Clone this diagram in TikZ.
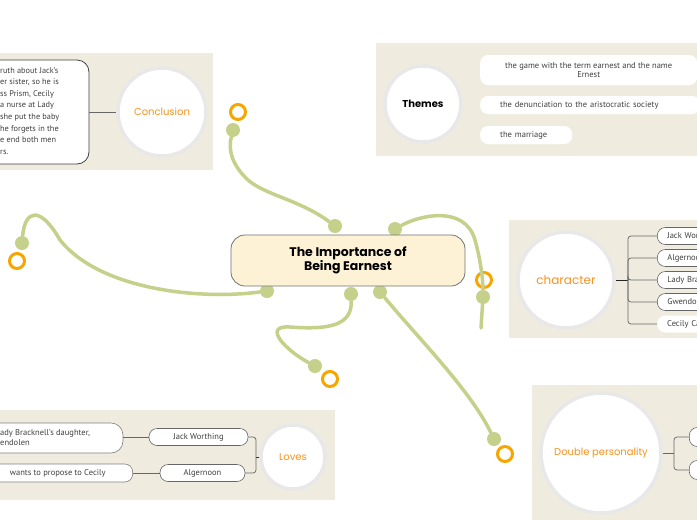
\documentclass[tikz,border=0pt]{standalone}
\usepackage{fontspec}
\setmainfont{PT Sans}
\newfontfamily\headfont{Poppins}
\usetikzlibrary{calc}
\definecolor{panel}{HTML}{EFECDF}
\definecolor{branch}{HTML}{C5D08A}
\definecolor{ring}{HTML}{F7A600}
\definecolor{lbl}{HTML}{F7931E}
\definecolor{cfill}{HTML}{FDF1D6}
\tikzset{
  pnl/.style={fill=panel,draw=none},
  topic/.style={circle,fill=white,draw=black!9,line width=3.5pt,inner sep=0pt},
  tlabel/.style={font=\headfont\fontsize{10}{12}\selectfont,text=lbl},
  sub/.style={rounded corners=8pt,fill=white,draw=black!60,line width=0.6pt,font=\fontsize{8.5}{9.5}\selectfont,text=black!75},
  subw/.style={rounded corners=8pt,fill=white,draw=none,font=\fontsize{8.5}{9.5}\selectfont,text=black!75},
  br/.style={draw=branch,line width=3.5pt,line cap=round},
  dotg/.style={circle,fill=branch,inner sep=0pt,minimum size=14pt},
  ringo/.style={circle,draw=ring,line width=3pt,fill=white,inner sep=0pt,minimum size=15pt},
  conn/.style={draw=black!60,line width=0.7pt},
}
\begin{document}
\begin{tikzpicture}[x=1pt,y=-1pt]
\useasboundingbox (0,0) rectangle (697,520);
\clip (0,0) rectangle (697,520);
\fill[white] (0,0) rectangle (697,520);
% panels
\fill[pnl] (0,53) rectangle (213,170);
\fill[pnl] (376,43) rectangle (697,156);
\fill[pnl] (509,220) rectangle (697,338);
\fill[pnl] (0,410) rectangle (335,500);
\fill[pnl] (532,385) rectangle (697,520);

% branches
\node[dotg] (d1) at (335,226) {};
\node[dotg] (d1b) at (233,130) {};
\node[ringo] (r1) at (238,112) {};
\draw[br] (d1) .. controls (300,200) and (265,195) .. (248,180) .. controls (232,165) and (228,150) .. (d1b);
\node[dotg] (d2) at (267,291) {};
\node[dotg] (d2b) at (22,243) {};
\node[ringo] (r2) at (17,261) {};
\draw[br] (d2) .. controls (200,300) and (100,290) .. (60,240) .. controls (40,205) and (25,210) .. (d2b);
\node[dotg] (d3) at (395,229) {};
\node[dotg] (d3b) at (483,297) {};
\node[ringo] (r3) at (484,280) {};
\coordinate (d3e) at (481,328);
\draw[br] (d3) .. controls (420,215) and (465,205) .. (475,240) .. controls (482,265) and (483,285) .. (d3b) -- (d3e);
\node[dotg] (d4) at (351,294) {};
\node[dotg] (d4b) at (315,366) {};
\node[ringo] (r4) at (330,379) {};
\draw[br] (d4) .. controls (352,325) and (330,330) .. (290,327) .. controls (262,325) and (285,350) .. (d4b);
\node[dotg] (d5) at (380,292) {};
\node[dotg] (d5b) at (494,439) {};
\node[ringo] (r5) at (505,454) {};
\draw[br] (d5) .. controls (420,340) and (470,390) .. (d5b);

% central
\node[rounded corners=14pt,fill=cfill,draw=black!55,line width=0.8pt,minimum width=234pt,minimum height=51pt,align=center,font=\headfont\bfseries\fontsize{12.5}{14}\selectfont] (c) at (348,260.5) {The Importance of\\Being Earnest};

% Conclusion
\node[topic,minimum size=88pt] (tc) at (162,112) {};
\node[tlabel] at (tc) {Conclusion};
\draw[rounded corners=12pt,fill=white,draw=black!75,line width=0.8pt] (-20,60) rectangle (89,164);
\node[anchor=north west,align=left,font=\fontsize{8.3}{11.6}\selectfont,text=black!75,inner sep=0pt] (ct) at (0,67) {ruth about Jack's\\er sister, so he is\\ss Prism, Cecily\\a nurse at Lady\\she put the baby\\he forgets in the\\e end both men\\rs.};
\draw[conn] (89,112) -- (tc.west);

% Themes
\node[topic,minimum size=76pt] (tt) at (423,104) {};
\node[font=\headfont\bfseries\fontsize{10}{12}\selectfont] at (tt) {Themes};
\node[subw,minimum width=217pt,minimum height=30pt,align=center,anchor=west] (t1) at (480,70) {the game with the term earnest and the name\\Ernest};
\node[subw,minimum width=202pt,minimum height=18pt,anchor=west,text width=180pt,align=left,inner xsep=20pt] (t2) at (480,105) {the denunciation to the aristocratic society};
\node[subw,minimum width=92pt,minimum height=18pt,anchor=west,text width=52pt,align=left,inner xsep=20pt] (t3) at (480,135) {the marriage};
\coordinate (t2e) at (697,105);
\draw[conn] (t2.east) -- (t2e);

% character
\node[topic,minimum size=96pt] (tch) at (566,280) {};
\node[tlabel,font=\headfont\fontsize{12}{14}\selectfont] at (tch) {character};
\coordinate (cb) at (628,280);
\draw[black!85,line width=1pt] (tch.east) -- (cb);
\foreach \n/\t/\y in {a/Jack Worthing/236,b/Algernoon/258,c/Lady Bracknell/280,d/Gwendolen/302}{
  \node[sub,minimum width=80pt,minimum height=17pt,anchor=west,text width=60pt,align=left] (ch\n) at (657,\y) {\t};
  \draw[conn,rounded corners=3pt] (cb) |- (ch\n.west);
}
\node[subw,minimum width=80pt,minimum height=17pt,anchor=west,text width=60pt,align=left] (che) at (657,324) {Cecily Cardew};
\draw[conn,rounded corners=3pt] (cb) |- (che.west);

% Loves
\node[topic,minimum size=64pt] (tl) at (293,457) {};
\node[tlabel] at (tl) {Loves};
\node[sub,minimum width=99pt,minimum height=17pt] (lj) at (198.5,437) {Jack Worthing};
\node[sub,minimum width=85pt,minimum height=17pt] (la) at (202.5,473) {Algernoon};
\coordinate (lb) at (256,457);
\draw[black!85,line width=1pt] (tl.west) -- (lb);
\draw[conn,rounded corners=3pt] (lb) |- (lj.east);
\draw[conn,rounded corners=3pt] (lb) |- (la.east);
\draw[rounded corners=12pt,fill=white,draw=black!50,line width=0.6pt] (-30,423) rectangle (123,453);
\node[anchor=west,align=left,font=\fontsize{8.5}{10}\selectfont,text=black!75,inner sep=0pt] (lt1) at (0,438) {ady Bracknell's daughter,\\endolen};
\draw[conn] (123,437) -- (lj.west);
\node[sub,minimum width=150pt,minimum height=18pt,anchor=east,draw=black!50] (lt2) at (133,473) {wants to propose to Cecily};
\draw[conn] (lt2.east) -- (la.west);

% Double personality
\node[topic,minimum size=120pt] (td) at (601,453) {};
\node[tlabel] at (td) {Double personality};
\coordinate (db) at (674,453);
\draw[conn] (td.east) -- (db);
\node[sub,minimum width=40pt,minimum height=19pt,anchor=west] (da) at (689,437) {};
\node[sub,minimum width=40pt,minimum height=19pt,anchor=west] (dbb) at (689,470) {};
\draw[conn,rounded corners=3pt] (db) |- (da.west);
\draw[conn,rounded corners=3pt] (db) |- (dbb.west);
\end{tikzpicture}
\end{document}
